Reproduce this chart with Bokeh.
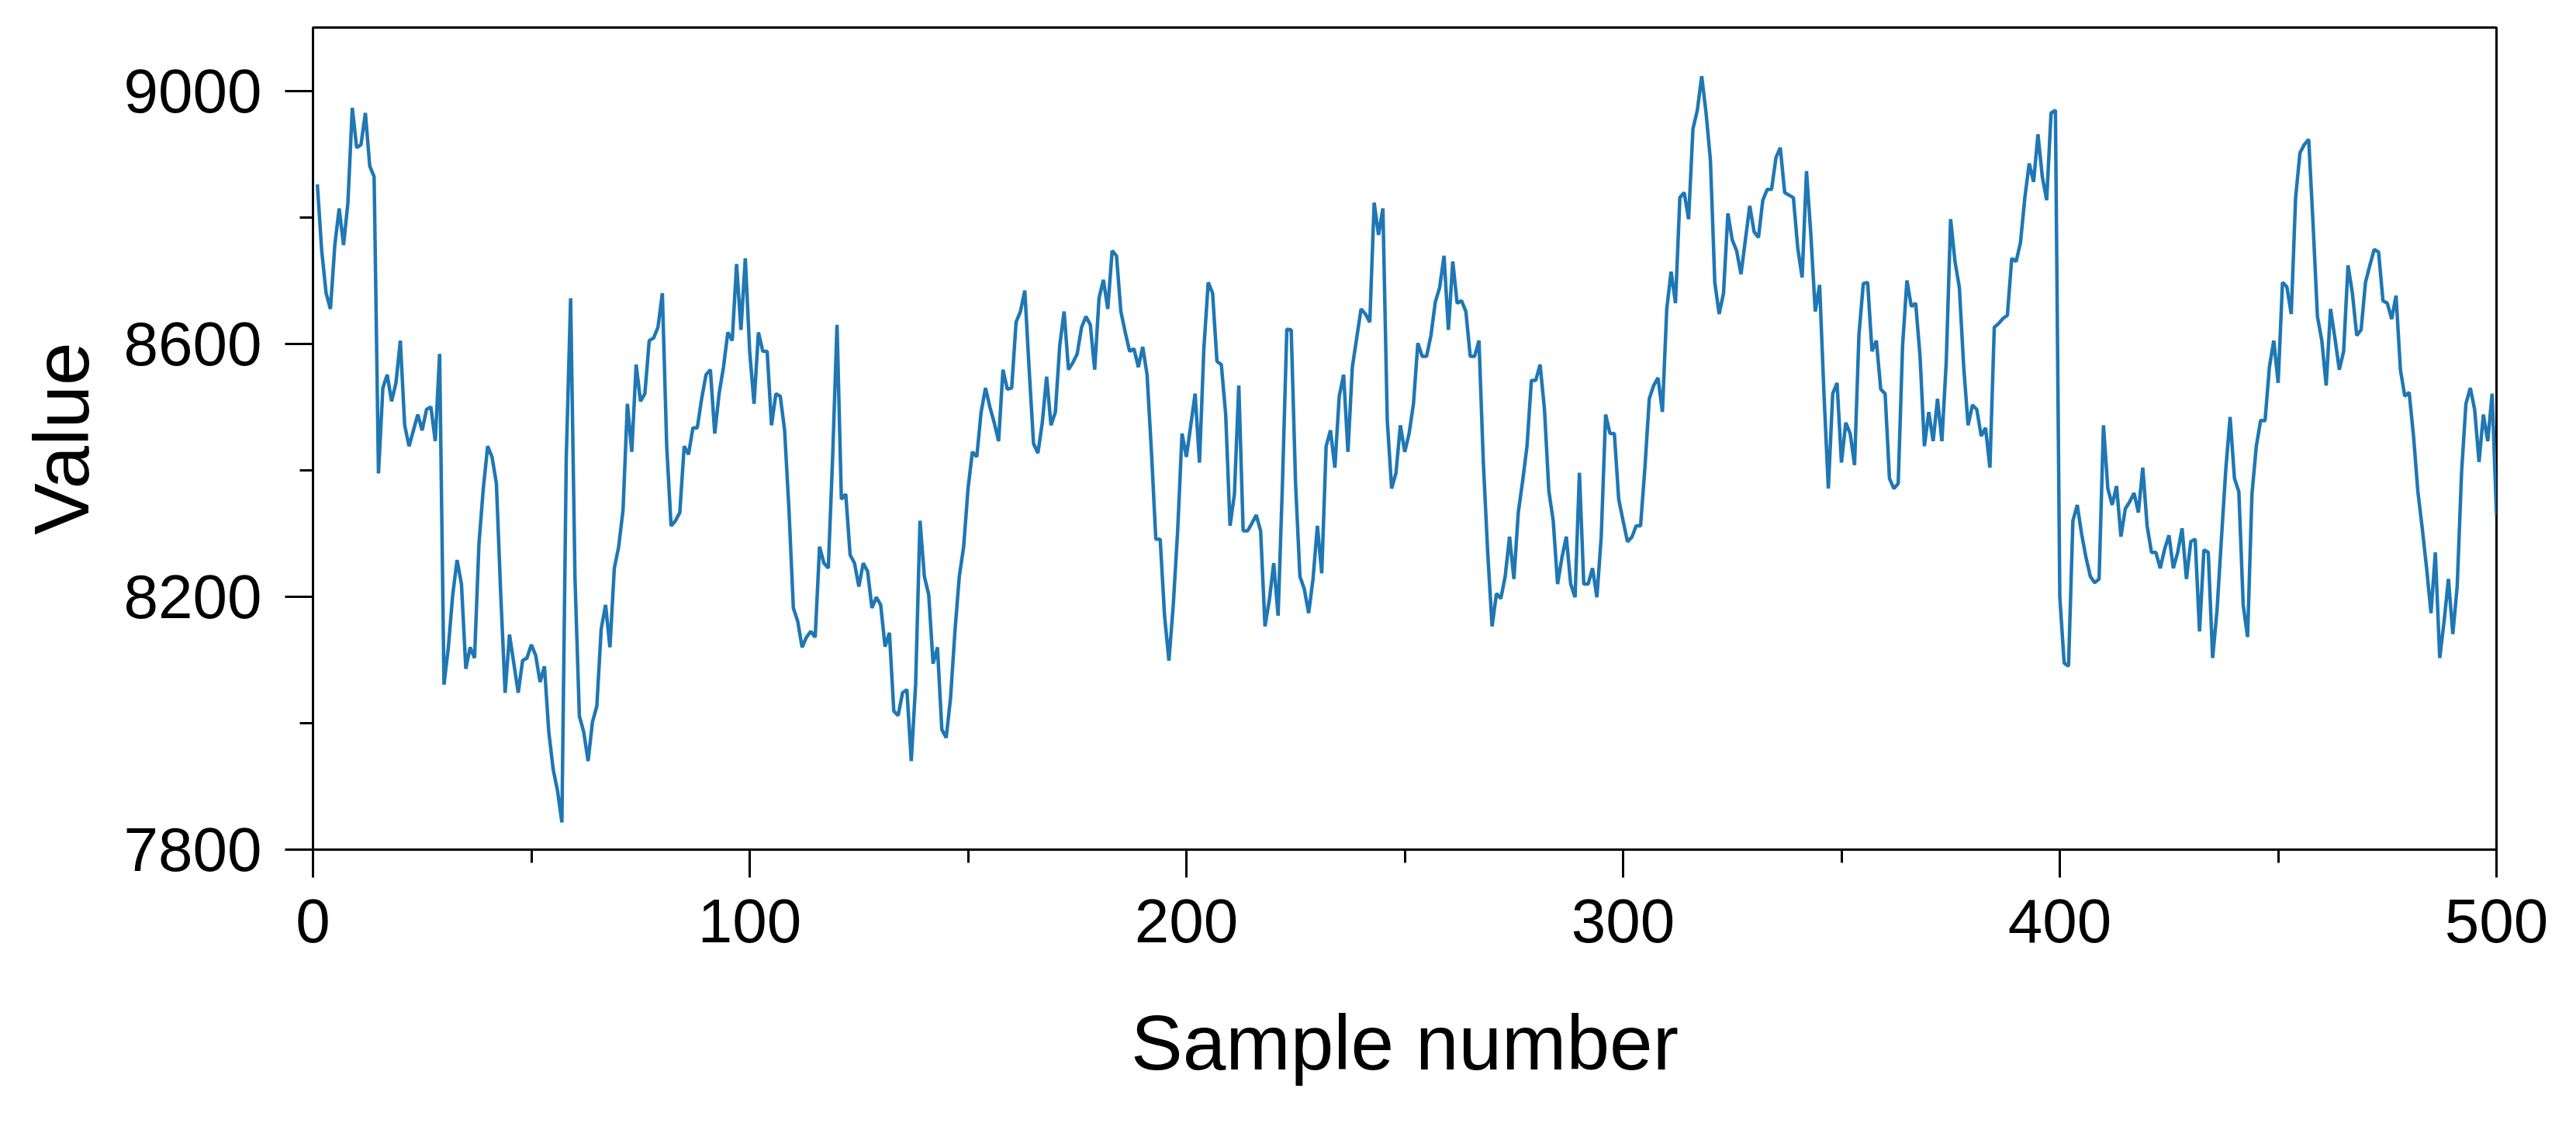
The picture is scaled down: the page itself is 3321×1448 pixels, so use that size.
from bokeh.plotting import figure
from bokeh.models import ColumnDataSource, FixedTicker, Range1d
from bokeh.embed import file_html
from bokeh.resources import INLINE

sample_number = list(range(1, 501))

values_001_100 = [
    8852, 8747, 8680, 8655, 8756, 8814, 8756, 8823, 8973, 8910,
    8915, 8965, 8881, 8864, 8395, 8530, 8551, 8509, 8538, 8605,
    8471, 8438, 8463, 8488, 8463, 8496, 8500, 8446, 8584, 8061,
    8120, 8203, 8258, 8220, 8086, 8120, 8103, 8283, 8371, 8438,
    8421, 8379, 8203, 8048, 8140, 8094, 8048, 8099, 8103, 8124,
    8107, 8065, 8090, 7986, 7927, 7893, 7843, 8420, 8672, 8228,
    8011, 7986, 7940, 8002, 8027, 8149, 8187, 8120, 8245, 8279,
    8337, 8505, 8429, 8567, 8509, 8521, 8605, 8609, 8626, 8680,
    8438, 8312, 8320, 8333, 8438, 8425, 8467, 8467, 8513, 8551,
    8559, 8458, 8521, 8563, 8618, 8605, 8726, 8622, 8735, 8588,
]
values_101_200 = [
    8505, 8618, 8588, 8588, 8471, 8521, 8517, 8463, 8337, 8182,
    8161, 8120, 8136, 8145, 8136, 8279, 8253, 8245, 8421, 8630,
    8354, 8362, 8266, 8253, 8216, 8253, 8240, 8182, 8199, 8187,
    8121, 8143, 8019, 8012, 8048, 8053, 7940, 8061, 8320, 8232,
    8203, 8094, 8120, 7990, 7977, 8040, 8145, 8232, 8279, 8371,
    8429, 8421, 8492, 8530, 8500, 8475, 8446, 8559, 8528, 8530,
    8634, 8651, 8684, 8559, 8442, 8427, 8475, 8548, 8471, 8492,
    8597, 8651, 8559, 8570, 8584, 8626, 8643, 8630, 8559, 8672,
    8701, 8655, 8747, 8739, 8651, 8618, 8588, 8592, 8563, 8595,
    8551, 8429, 8291, 8291, 8170, 8099, 8187, 8304, 8458, 8421,
]
values_201_300 = [
    8471, 8521, 8412, 8592, 8697, 8680, 8572, 8567, 8488, 8312,
    8362, 8534, 8304, 8304, 8316, 8329, 8304, 8153, 8195, 8253,
    8170, 8379, 8623, 8622, 8379, 8232, 8212, 8174, 8228, 8312,
    8237, 8438, 8463, 8404, 8517, 8551, 8429, 8563, 8609, 8655,
    8647, 8634, 8823, 8772, 8814, 8479, 8371, 8396, 8471, 8429,
    8458, 8505, 8601, 8580, 8580, 8613, 8666, 8689, 8739, 8622,
    8730, 8664, 8668, 8651, 8580, 8580, 8605, 8412, 8270, 8153,
    8205, 8197, 8232, 8295, 8228, 8333, 8383, 8438, 8542, 8542,
    8567, 8496, 8367, 8320, 8220, 8262, 8295, 8220, 8199, 8396,
    8220, 8220, 8245, 8199, 8295, 8488, 8458, 8458, 8354, 8320,
]
values_301_400 = [
    8287, 8294, 8312, 8312, 8404, 8513, 8534, 8546, 8492, 8655,
    8714, 8664, 8831, 8839, 8797, 8940, 8969, 9023, 8965, 8890,
    8697, 8647, 8680, 8806, 8764, 8747, 8710, 8764, 8818, 8777,
    8768, 8827, 8844, 8844, 8894, 8910, 8839, 8835, 8831, 8751,
    8705, 8873, 8772, 8651, 8693, 8521, 8371, 8521, 8538, 8412,
    8475, 8458, 8408, 8613, 8695, 8697, 8588, 8605, 8528, 8521,
    8387, 8371, 8379, 8597, 8700, 8659, 8664, 8580, 8438, 8492,
    8446, 8513, 8446, 8571, 8797, 8730, 8689, 8563, 8471, 8503,
    8496, 8454, 8467, 8404, 8626, 8632, 8640, 8645, 8735, 8730,
    8760, 8831, 8885, 8856, 8931, 8864, 8827, 8965, 8969, 8200,
]
values_401_500 = [
    8095, 8090, 8320, 8345, 8299, 8262, 8232, 8222, 8228, 8471,
    8371, 8345, 8375, 8295, 8339, 8350, 8364, 8333, 8404, 8312,
    8270, 8270, 8245, 8275, 8297, 8245, 8270, 8308, 8228, 8287,
    8291, 8145, 8274, 8270, 8103, 8178, 8290, 8400, 8484, 8387,
    8366, 8187, 8136, 8362, 8438, 8479, 8478, 8563, 8605, 8538,
    8697, 8690, 8647, 8831, 8902, 8915, 8923, 8789, 8643, 8605,
    8534, 8655, 8609, 8559, 8588, 8724, 8680, 8613, 8622, 8697,
    8724, 8749, 8745, 8668, 8664, 8639, 8676, 8559, 8517, 8523,
    8454, 8366, 8308, 8245, 8174, 8270, 8103, 8161, 8228, 8141,
    8216, 8396, 8505, 8530, 8496, 8413, 8488, 8446, 8521, 8329,
]
values = values_001_100 + values_101_200 + values_201_300 + values_301_400 + values_401_500

x_major_ticks = [0, 100, 200, 300, 400, 500]
x_minor_ticks = [50, 150, 250, 350, 450]
y_major_ticks = [7800, 8200, 8600, 9000]
y_minor_ticks = [8000, 8400, 8800]

source = ColumnDataSource(data=dict(x=sample_number, y=values))

FONT = "Liberation Sans"

p = figure(
    width=3305, height=1430,
    x_range=Range1d(0, 500), y_range=Range1d(7800, 9100),
    output_backend="svg", toolbar_location=None,
    min_border_left=403, min_border_right=87,
    min_border_top=35, min_border_bottom=335,
)
p.line("x", "y", source=source, line_color="#1f77b4", line_width=4.5)

p.xgrid.visible = False
p.ygrid.visible = False
p.outline_line_color = "black"
p.outline_line_width = 3
p.background_fill_color = "white"
p.border_fill_color = "white"

p.xaxis.ticker = FixedTicker(ticks=x_major_ticks, minor_ticks=x_minor_ticks)
p.yaxis.ticker = FixedTicker(ticks=y_major_ticks, minor_ticks=y_minor_ticks)

p.xaxis.axis_label = "Sample number"
p.yaxis.axis_label = "Value"

for ax in (p.xaxis, p.yaxis):
    ax.axis_line_color = "black"
    ax.axis_line_width = 3
    ax.major_tick_line_color = "black"
    ax.major_tick_line_width = 3
    ax.minor_tick_line_color = "black"
    ax.minor_tick_line_width = 3
    ax.major_tick_out = 36
    ax.major_tick_in = 0
    ax.minor_tick_out = 17
    ax.minor_tick_in = 0
    ax.major_label_text_font = FONT
    ax.major_label_text_font_size = "80px"
    ax.major_label_text_color = "black"
    ax.axis_label_text_font = FONT
    ax.axis_label_text_font_size = "100px"
    ax.axis_label_text_font_style = "normal"
    ax.axis_label_text_color = "black"

p.xaxis.major_label_standoff = 28
p.yaxis.major_label_standoff = 30
p.xaxis.axis_label_standoff = 70
p.yaxis.axis_label_standoff = 22

open("out.html", "w").write(file_html(p, INLINE))
